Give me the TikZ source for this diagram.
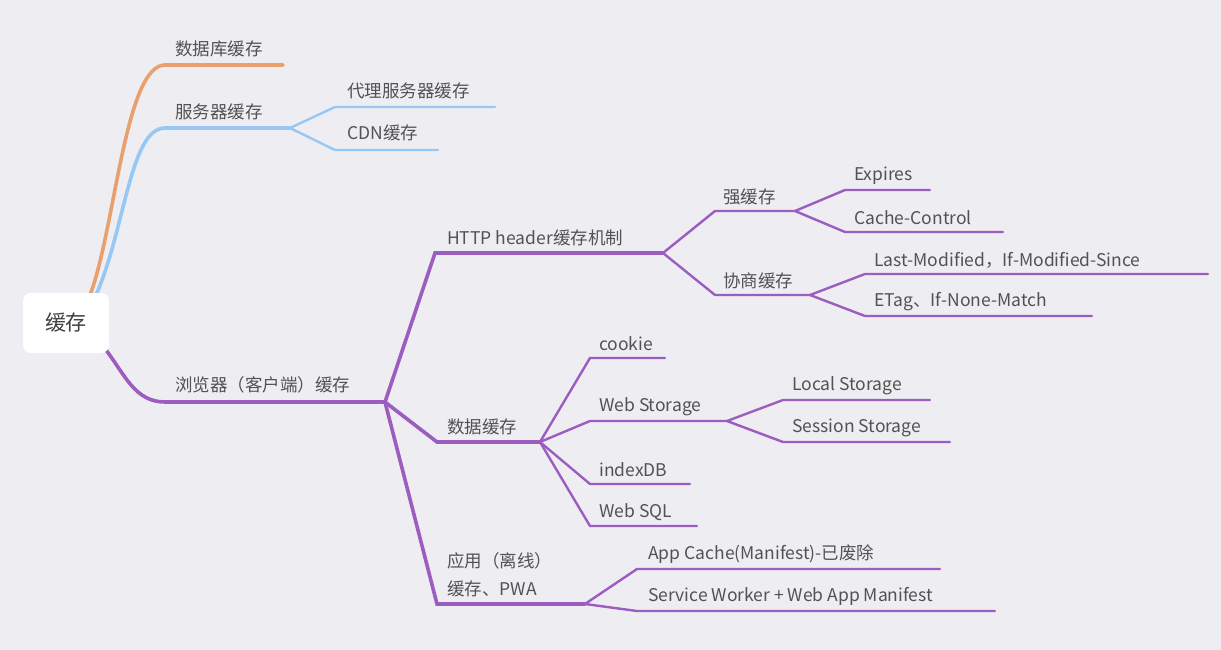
\documentclass[tikz,border=0pt]{standalone}
\usepackage{fontspec}
\setmainfont{Noto Sans CJK SC}
\begin{document}
\begin{tikzpicture}[x=1pt,y=-1pt,
  lbl/.style={anchor=west,inner sep=0pt,text=black!68,font=\fontsize{17.5}{20}\selectfont},
  org/.style={draw={rgb,255:red,232;green,160;blue,110},line width=3.6pt,line cap=round},
  blu/.style={draw={rgb,255:red,150;green,200;blue,245},line width=3.6pt,line cap=round},
  pur/.style={draw={rgb,255:red,155;green,93;blue,191},line width=3.6pt,line cap=round},
  pth/.style={draw={rgb,255:red,155;green,93;blue,191},line width=2.4pt,line cap=round},
  bth/.style={draw={rgb,255:red,150;green,200;blue,245},line width=2.4pt,line cap=round}]
\useasboundingbox[fill={rgb,255:red,238;green,238;blue,242}] (0,0) rectangle (1221,650);
% helper: curved branch from parent end to child line
\newcommand{\brc}[6]{% style, from, x1, y, x2, name
  \coordinate (#6s) at (#3,#4); \coordinate (#6) at (#5,#4);
  \draw[#1] (#2) .. controls ($(#2)!0.5!(#6s)$ |- #2) and ($(#2)!0.5!(#6s)$ |- #6s) .. (#6s) -- (#6);}
\usetikzlibrary{calc}
% root
\coordinate (rt) at (90,295);
\coordinate (rt2) at (96,295);
\coordinate (rb) at (106,350);
\coordinate (dbs) at (165,65); \coordinate (db) at (283,65);
\draw[org] (rt) .. controls (115,230) and (125,65) .. (dbs) -- (db);
\coordinate (svs) at (165,128); \coordinate (sv) at (290,128);
\draw[blu] (rt2) .. controls (125,230) and (130,128) .. (svs) -- (sv);
\coordinate (brs) at (165,402); \coordinate (br) at (385,402);
\draw[pur] (rb) .. controls (125,375) and (135,402) .. (brs) -- (br);
\node[fill=white,rounded corners=8pt,minimum width=86pt,minimum height=60pt,inner sep=0pt,font=\fontsize{21}{24}\selectfont,text=black!75] (root) at (66,323) {缓存};
\node[lbl] (tdb) at (175,49) {数据库缓存};
\node[lbl] (tsv) at (175,112) {服务器缓存};
\node[lbl] (tbr) at (175,385) {浏览器（客户端）缓存};
% server
\brc{bth}{sv}{335}{107}{495}{px}
\brc{bth}{sv}{335}{150}{438}{cdn}
\node[lbl] at (347,91) {代理服务器缓存};
\node[lbl] at (347,133) {CDN缓存};
% browser
\brc{pur}{br}{435}{253}{663}{http}
\brc{pur}{br}{437}{442}{540}{data}
\brc{pur}{br}{437}{604}{585}{app}
\node[lbl] at (447,238) {HTTP header缓存机制};
\node[lbl] at (447,427) {数据缓存};
\node[lbl] at (447,561) {应用（离线）};
\node[lbl] at (447,589) {缓存、PWA};
% http
\brc{pth}{http}{715}{211}{795}{strong}
\brc{pth}{http}{715}{295}{810}{nego}
\node[lbl] at (723,197) {强缓存};
\node[lbl] at (723,281) {协商缓存};
\brc{pth}{strong}{845}{190}{930}{exp}
\brc{pth}{strong}{845}{232}{1003}{cc}
\node[lbl] at (854,176) {Expires};
\node[lbl] at (854,218) {Cache-Control};
\brc{pth}{nego}{865}{274}{1208}{lm}
\brc{pth}{nego}{865}{316}{1092}{etag}
\node[lbl] at (874,260) {Last-Modified，If-Modified-Since};
\node[lbl] at (874,302) {ETag、If-None-Match};
% data
\brc{pth}{data}{590}{358}{665}{ck}
\brc{pth}{data}{590}{421}{727}{ws}
\brc{pth}{data}{590}{484}{690}{idb}
\brc{pth}{data}{590}{526}{697}{sql}
\node[lbl] at (599,344) {cookie};
\node[lbl] at (599,407) {Web Storage};
\node[lbl] at (599,470) {indexDB};
\node[lbl] at (599,512) {Web SQL};
\brc{pth}{ws}{783}{400}{930}{ls}
\brc{pth}{ws}{783}{442}{950}{ss}
\node[lbl] at (792,386) {Local Storage};
\node[lbl] at (792,428) {Session Storage};
% app
\brc{pth}{app}{637}{569}{940}{ac}
\brc{pth}{app}{637}{611}{995}{sw}
\node[lbl] at (648,554) {App Cache(Manifest)-已废除};
\node[lbl] at (648,596) {Service Worker + Web App Manifest};
\end{tikzpicture}
\end{document}
